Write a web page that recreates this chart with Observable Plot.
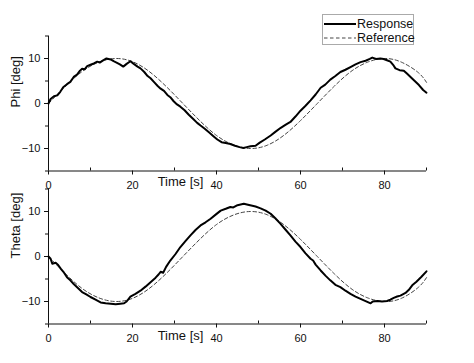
<!DOCTYPE html>
<html>
<head>
<meta charset="utf-8">
<script src="https://cdn.jsdelivr.net/npm/d3@7"></script>
<script src="https://cdn.jsdelivr.net/npm/@observablehq/plot@0.6"></script>
<style>
  body { margin: 0; background: white; font-family: "Liberation Sans", Arial, sans-serif; }
  #wrap { position: relative; width: 474px; height: 363px; overflow: hidden; background: white; }
  #wrap svg { position: absolute; left: 0; overflow: visible; background: transparent; }
  #legend { position: absolute; left: 322px; top: 14px; width: 90px; height: 29px; border: 1px solid #aaa; background: white; }
  #legend div { position: absolute; left: 34px; font-size: 12.5px; color: #111; line-height: 14px; }
  #legend svg { position: absolute; left: 0; top: 0; }
</style>
</head>
<body>
<div id="wrap"></div>
<script>
// ---- data ----
const seriesNames = ["Response", "Reference"];
const xLabel = "Time [s]";
const phiLabel = "Phi [deg]";
const thetaLabel = "Theta [deg]";
const xTicks = [0, 20, 40, 60, 80];
const xMinorTicks = [10, 30, 50, 70, 90];
const yTicks = [-10, 0, 10];
const yMinorTicks = [-15, -5, 5, 15];

const phiRespT = [0,0.5,1.3,2.1,2.8,3.5,4.4,5.2,6.0,6.8,7.5,8.0,8.6,9.2,10.0,10.8,11.6,12.2,13.0,13.8,14.8,15.5,16.2,17.0,17.8,18.6,19.5,20.3,21.2,21.9,22.8,23.6,24.3,25.2,26.0,26.7,27.5,28.3,29.0,29.8,30.6,31.4,32.4,33.4,34.4,35.4,36.2,37.2,38.2,39.2,40.2,41.2,42.2,43.3,44.4,45.5,46.4,47.2,48.1,49.3,50.3,51.5,52.9,54.0,55.3,56.5,57.6,58.8,60.0,61.2,62.4,63.6,64.8,65.9,67.1,68.3,69.5,70.7,71.9,73.1,74.3,75.5,76.5,77.1,78.0,79.0,79.8,80.6,81.4,82.2,82.6,83.6,84.6,85.4,86.2,87.2,88.2,89.2,90.0];
const phiRespV = [0,1.0,1.6,1.8,2.6,3.6,4.3,4.8,5.9,6.4,7.3,7.7,7.6,8.3,8.6,8.9,9.3,9.1,9.6,10.0,9.8,9.4,9.1,8.7,8.2,8.8,9.4,8.8,8.2,7.8,7.0,6.1,5.6,4.7,3.9,3.3,2.8,1.9,1.4,0.5,-0.2,-0.7,-1.5,-2.5,-3.4,-4.3,-4.9,-5.6,-6.4,-7.2,-8.0,-8.6,-8.8,-9.0,-9.4,-9.7,-9.9,-9.7,-9.5,-9.4,-8.7,-8.0,-7.1,-6.3,-5.4,-4.7,-4.1,-2.9,-1.6,-0.5,0.7,2.0,3.5,4.2,5.3,6.1,7.0,7.5,8.1,8.7,9.2,9.5,9.9,10.2,9.9,10.0,9.9,9.6,9.3,8.4,7.8,7.4,7.3,6.6,5.9,5.0,4.1,3.0,2.4];

const refT = [0,4,8,12,16,20,24,28,32,36,40,44,48,52,56,60,64,68,72,76,80,84,88,90];
const phiRefV = [0,3.8,7.1,9.2,10,9.3,7.1,3.8,0,-3.8,-7.1,-9.2,-10,-9.3,-7.1,-3.8,0,3.8,7.1,9.2,10,9.2,6.9,4.7];
const thetaRefV = [0,-3.8,-7.1,-9.2,-10,-9.3,-7.1,-3.8,0,3.8,7.1,9.2,10,9.3,7.1,3.8,0,-3.8,-7.1,-9.2,-10,-9.3,-6.9,-4.7];

const thetaRespT = [0,0.5,0.9,1.7,2.3,2.9,3.7,4.4,5.2,6.0,7.0,8.0,9.0,10.0,11.2,12.4,13.6,14.8,16.0,17.1,18.0,18.6,19.5,20.7,21.9,23.1,24.3,25.5,26.2,26.7,27.3,28.0,29.0,30.2,31.4,32.6,33.8,35.0,36.2,37.4,38.6,39.8,41.0,42.2,43.3,44.0,45.0,46.5,47.5,49.3,50.5,51.7,52.9,54.0,55.2,56.4,57.6,58.8,60.0,61.2,62.4,63.0,63.6,64.8,66.0,67.1,68.3,69.5,70.7,71.9,73.1,74.3,75.5,76.7,77.2,78.3,79.4,80.6,81.4,82.2,83.0,83.8,85.0,85.8,86.6,87.6,88.8,90.0];
const thetaRespV = [0,-0.5,-1.6,-1.4,-1.9,-2.7,-3.6,-4.6,-5.3,-6.1,-7.0,-7.9,-8.4,-9.0,-9.6,-10.2,-10.4,-10.5,-10.6,-10.5,-10.4,-10.0,-8.9,-8.3,-7.6,-6.7,-5.7,-4.7,-4.0,-3.4,-3.6,-2.3,-0.9,0.5,2.1,3.4,4.7,5.9,6.9,7.6,8.4,9.3,10.2,10.6,11.0,10.9,11.4,11.7,11.5,11.1,10.7,10.2,9.5,8.5,7.3,6.0,4.7,3.3,2.1,0.7,-0.5,-0.9,-1.8,-3.1,-4.3,-5.3,-6.3,-6.8,-7.6,-8.3,-8.9,-9.4,-9.9,-10.4,-10.0,-9.9,-10.0,-9.9,-9.6,-9.2,-8.9,-8.7,-8.1,-7.4,-6.4,-5.6,-4.5,-3.3];

// ---- build tables ----
const toRows = (ts, vs) => ts.map((t, i) => ({t, v: vs[i]}));
const phiResp = toRows(phiRespT, phiRespV);
const phiRef = toRows(refT, phiRefV);
const thetaResp = toRows(thetaRespT, thetaRespV);
const thetaRef = toRows(refT, thetaRefV);

const FONT = "Liberation Sans, Arial, sans-serif";

function panel(resp, ref, ylabel, opts) {
  return Plot.plot({
    width: 474,
    height: opts.height,
    marginLeft: 48,
    marginRight: 48,
    marginTop: opts.mt,
    marginBottom: opts.mb,
    style: {fontFamily: FONT, fontSize: "11px", color: "#111", background: "transparent", overflow: "visible"},
    x: {domain: [0, 90]},
    y: {domain: [-15, 15]},
    marks: [
      Plot.ruleX([0], {stroke: "#111", strokeWidth: 1}),
      Plot.ruleY([-15], {stroke: "#111", strokeWidth: 1}),
      Plot.axisX({ticks: xTicks, tickSize: 4, tickPadding: 6, label: null, fontSize: 11}),
      Plot.axisX({ticks: xMinorTicks, tickSize: -3, tickFormat: () => "", label: null}),
      Plot.axisY({ticks: yTicks, tickSize: 4, tickPadding: 4, label: null, fontSize: 11}),
      Plot.axisY({ticks: yMinorTicks, tickSize: 3, tickFormat: () => "", label: null}),
      Plot.text([xLabel], {frameAnchor: "bottom", dx: -57, dy: opts.xlabDy, fontSize: 13, fill: "#111"}),
      Plot.text([ylabel], {frameAnchor: "left", rotate: -90, dx: -33, dy: opts.ylabDy, fontSize: 13, fill: "#111"}),
      Plot.line(ref, {x: "t", y: "v", curve: "natural", stroke: "#444", strokeWidth: 1, strokeDasharray: "3.5,2.5"}),
      Plot.line(resp, {x: "t", y: "v", stroke: "#000", strokeWidth: 2, strokeLinejoin: "round"})
    ]
  });
}

const wrap = document.getElementById("wrap");
const top1 = panel(phiResp, phiRef, phiLabel, {height: 200, mt: 35.5, mb: 29.5, xlabDy: 15, ylabDy: 4});
top1.style.top = "0px";
const bot = panel(thetaResp, thetaRef, thetaLabel, {height: 183, mt: 8.5, mb: 39.5, xlabDy: 16, ylabDy: 2});
bot.style.top = "180px";
wrap.appendChild(top1);
wrap.appendChild(bot);

// legend
const legend = document.createElement("div");
legend.id = "legend";
legend.innerHTML =
  `<svg width="34" height="29"><line x1="1" x2="33" y1="9" y2="9" stroke="#000" stroke-width="2"/>` +
  `<line x1="1" x2="33" y1="23" y2="23" stroke="#444" stroke-width="1" stroke-dasharray="3.5,2.5"/></svg>` +
  `<div style="top:2px">${seriesNames[0]}</div><div style="top:16px">${seriesNames[1]}</div>`;
wrap.appendChild(legend);
</script>
</body>
</html>
